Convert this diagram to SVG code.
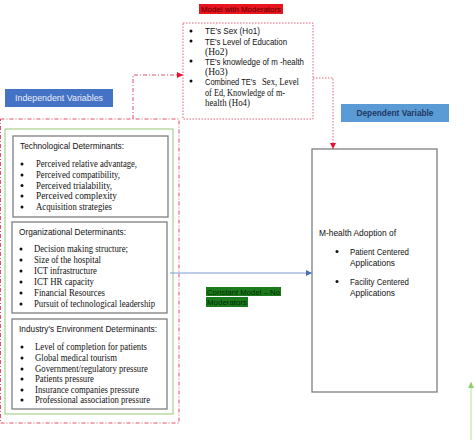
<svg xmlns="http://www.w3.org/2000/svg" width="474" height="440" viewBox="0 0 474 440">
<defs>
<style>
.sans{font-family:"Liberation Sans",Arial,sans-serif;font-size:8.8px;fill:#111}
.serif{font-family:"Liberation Serif","Times New Roman",serif;font-size:9.5px;fill:#111}
.gray{fill:#fff;stroke:#7f7f7f;stroke-width:1.3}
.dd{fill:none;stroke:#e0506a;stroke-width:1;stroke-dasharray:4 2 1 2}
.dot{fill:none;stroke:#e0506a;stroke-width:0.9;stroke-dasharray:1.5 1.5}
</style>
<marker id="ar" viewBox="0 0 6 6" refX="6" refY="3" markerWidth="6" markerHeight="6" orient="auto" markerUnits="userSpaceOnUse"><path d="M0,0 L6,3 L0,6 z" fill="#e8102a"/></marker>
<marker id="ab" viewBox="0 0 6 6" refX="6" refY="3" markerWidth="6" markerHeight="6" orient="auto" markerUnits="userSpaceOnUse"><path d="M0,0 L6,3 L0,6 z" fill="#4a6fb5"/></marker>
<marker id="ag" viewBox="0 0 6 6" refX="6" refY="3" markerWidth="6" markerHeight="6" orient="auto" markerUnits="userSpaceOnUse"><path d="M0,0 L6,3 L0,6 z" fill="#8fcf6a"/></marker>
</defs>
<rect width="474" height="440" fill="#fff"/>

<g id="moderator-label">
<rect x="199" y="4" width="84" height="10" fill="#e8141e"/>
<text x="241" y="12" text-anchor="middle" style="font-family:'Liberation Sans',Arial,sans-serif;font-size:8px;fill:#5a0000" textLength="80" lengthAdjust="spacingAndGlyphs">Model with Moderators</text>
</g>

<g id="moderator-box">
<rect x="183" y="23" width="130" height="96" class="dot" fill="#fff"/>
<g fill="#111"><circle cx="191" cy="31" r="1.5"/><circle cx="191" cy="41" r="1.5"/><circle cx="191" cy="61" r="1.5"/><circle cx="191" cy="81" r="1.5"/></g>
<text x="205" y="34" class="sans" textLength="55" lengthAdjust="spacingAndGlyphs">TE's Sex (Ho1)</text>
<text x="205" y="44.5" class="sans" textLength="82" lengthAdjust="spacingAndGlyphs">TE's Level of Education</text>
<text x="205" y="55" class="serif">(Ho2)</text>
<text x="205" y="65" class="sans" textLength="99" lengthAdjust="spacingAndGlyphs">TE's knowledge of m -health</text>
<text x="205" y="75" class="serif">(Ho3)</text>
<text x="205" y="85" class="sans" textLength="51" lengthAdjust="spacingAndGlyphs">Combined TE's</text>
<text x="262" y="85" class="serif" textLength="37" lengthAdjust="spacingAndGlyphs">Sex, Level</text>
<text x="205" y="96" class="serif" textLength="80" lengthAdjust="spacingAndGlyphs">of Ed, Knowledge of m-</text>
<text x="205" y="106" class="serif" textLength="45" lengthAdjust="spacingAndGlyphs">health (Ho4)</text>
</g>

<g id="independent-label">
<rect x="5" y="89" width="108" height="18" fill="#4472c4"/>
<text x="59" y="101" text-anchor="middle" style="font-family:'Liberation Sans',Arial,sans-serif;font-size:8.8px;fill:#e8eefa" textLength="88" lengthAdjust="spacingAndGlyphs">Independent Variables</text>
</g>

<g id="dependent-label">
<rect x="341" y="104" width="108" height="18" fill="#5b9bd5"/>
<text x="395" y="116" text-anchor="middle" style="font-family:'Liberation Sans',Arial,sans-serif;font-size:8.8px;font-weight:bold;fill:#1f3864" textLength="77" lengthAdjust="spacingAndGlyphs">Dependent Variable</text>
</g>

<g id="independent-group">
<rect x="0.5" y="119" width="178.5" height="304" class="dd"/>
<rect x="5" y="129" width="168" height="285" fill="none" stroke="#a9d08e" stroke-width="1.2"/>
</g>

<g id="technological">
<rect x="13" y="136" width="155" height="81" class="gray"/>
<text x="20" y="149" class="sans" textLength="104" lengthAdjust="spacingAndGlyphs">Technological Determinants:</text>
<g fill="#111"><circle cx="22" cy="164" r="1.5"/><circle cx="22" cy="175" r="1.5"/><circle cx="22" cy="185.5" r="1.5"/><circle cx="22" cy="196" r="1.5"/><circle cx="22" cy="207" r="1.5"/></g>
<text x="36" y="167" class="serif" textLength="101" lengthAdjust="spacingAndGlyphs">Perceived relative advantage,</text>
<text x="36" y="178" class="serif" textLength="84" lengthAdjust="spacingAndGlyphs">Perceived compatibility,</text>
<text x="36" y="188.5" class="serif" textLength="76" lengthAdjust="spacingAndGlyphs">Perceived trialability,</text>
<text x="36" y="199" class="serif" textLength="81" lengthAdjust="spacingAndGlyphs">Perceived complexity</text>
<text x="36" y="210" class="serif" textLength="76" lengthAdjust="spacingAndGlyphs">Acquisition strategies</text>
</g>

<g id="organizational">
<rect x="12" y="222" width="155" height="91" class="gray"/>
<text x="19" y="235" class="sans" textLength="107" lengthAdjust="spacingAndGlyphs">Organizational Determinants:</text>
<g fill="#111"><circle cx="21" cy="249" r="1.5"/><circle cx="21" cy="260" r="1.5"/><circle cx="21" cy="271" r="1.5"/><circle cx="21" cy="282" r="1.5"/><circle cx="21" cy="293" r="1.5"/><circle cx="21" cy="304" r="1.5"/></g>
<text x="34" y="252" class="serif" textLength="94" lengthAdjust="spacingAndGlyphs">Decision making structure;</text>
<text x="34" y="263" class="serif" textLength="67" lengthAdjust="spacingAndGlyphs">Size of the hospital</text>
<text x="34" y="274" class="serif" textLength="63" lengthAdjust="spacingAndGlyphs">ICT infrastructure</text>
<text x="34" y="285" class="serif" textLength="60" lengthAdjust="spacingAndGlyphs">ICT HR capacity</text>
<text x="34" y="296" class="serif" textLength="71" lengthAdjust="spacingAndGlyphs">Financial Resources</text>
<text x="34" y="307" class="serif" textLength="121" lengthAdjust="spacingAndGlyphs">Pursuit of technological leadership</text>
</g>

<g id="industry">
<rect x="12" y="319" width="155" height="90" class="gray"/>
<text x="19" y="332" class="sans" textLength="138" lengthAdjust="spacingAndGlyphs">Industry's Environment Determinants:</text>
<g fill="#111"><circle cx="22" cy="347" r="1.5"/><circle cx="22" cy="358" r="1.5"/><circle cx="22" cy="369" r="1.5"/><circle cx="22" cy="379" r="1.5"/><circle cx="22" cy="390" r="1.5"/><circle cx="22" cy="400" r="1.5"/></g>
<text x="35" y="350" class="serif" textLength="112" lengthAdjust="spacingAndGlyphs">Level of completion for patients</text>
<text x="35" y="361" class="serif" textLength="82" lengthAdjust="spacingAndGlyphs">Global medical tourism</text>
<text x="35" y="372" class="serif" textLength="113" lengthAdjust="spacingAndGlyphs">Government/regulatory pressure</text>
<text x="35" y="382" class="serif" textLength="59" lengthAdjust="spacingAndGlyphs">Patients pressure</text>
<text x="35" y="393" class="serif" textLength="104" lengthAdjust="spacingAndGlyphs">Insurance companies pressure</text>
<text x="35" y="403" class="serif" textLength="115" lengthAdjust="spacingAndGlyphs">Professional association pressure</text>
</g>

<g id="dependent-box">
<rect x="312" y="149" width="125" height="243" class="gray"/>
<text x="319" y="236" class="sans" textLength="77" lengthAdjust="spacingAndGlyphs">M-health Adoption of</text>
<g fill="#111"><circle cx="337" cy="251.5" r="1.5"/><circle cx="337" cy="281.5" r="1.5"/></g>
<text x="350" y="255" class="sans" textLength="59" lengthAdjust="spacingAndGlyphs">Patient Centered</text>
<text x="350" y="266" class="sans" textLength="45" lengthAdjust="spacingAndGlyphs">Applications</text>
<text x="350" y="285" class="sans" textLength="59" lengthAdjust="spacingAndGlyphs">Facility Centered</text>
<text x="350" y="296" class="sans" textLength="45" lengthAdjust="spacingAndGlyphs">Applications</text>
</g>

<g id="constant-label">
<rect x="206" y="287" width="75" height="9" fill="#1b7a1b"/>
<rect x="206" y="297" width="42" height="10" fill="#1b7a1b"/>
<text x="207" y="294.5" style="font-family:'Liberation Sans',Arial,sans-serif;font-size:8px;fill:#062a06" textLength="73" lengthAdjust="spacingAndGlyphs">Constant Model – No</text>
<text x="207" y="305" style="font-family:'Liberation Sans',Arial,sans-serif;font-size:8px;fill:#062a06" textLength="40" lengthAdjust="spacingAndGlyphs">Moderators</text>
</g>

<g id="connectors">
<path d="M133,119 V75 H183" class="dd" marker-end="url(#ar)"/>
<path d="M313,78 H333 V149" class="dot" marker-end="url(#ar)"/>
<path d="M170,273 H312" fill="none" stroke="#7f9bd0" stroke-width="1" marker-end="url(#ab)"/>
<path d="M471,440 V382" fill="none" stroke="#b6e29a" stroke-width="1" marker-end="url(#ag)"/>
</g>
</svg>
